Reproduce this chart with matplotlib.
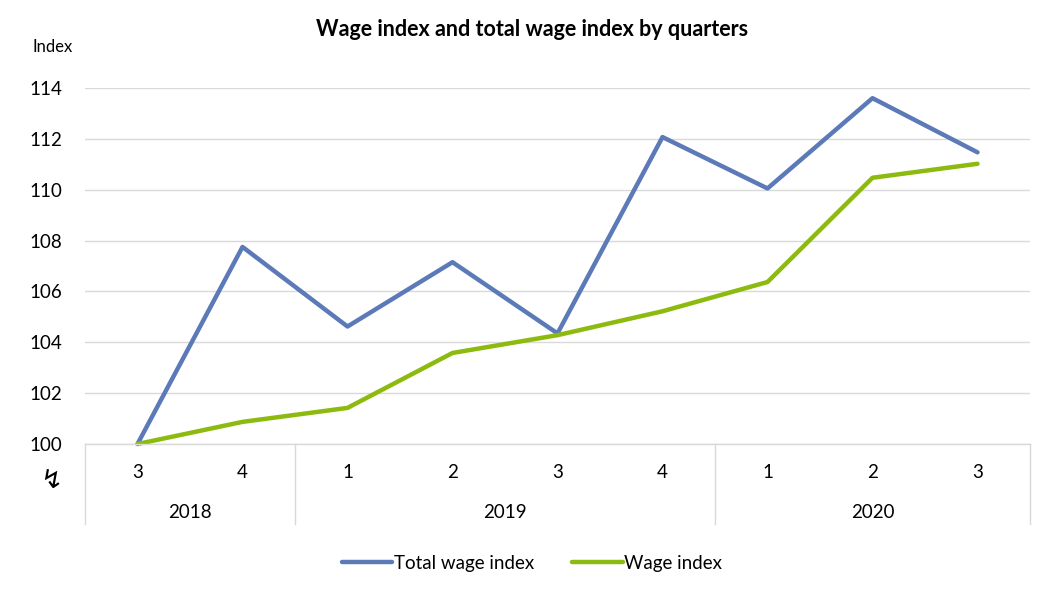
import numpy as np
import matplotlib.pyplot as plt
import matplotlib.transforms as mtransforms

plt.rcParams['font.family'] = ['Lato', 'DejaVu Sans']

quarters = ["3", "4", "1", "2", "3", "4", "1", "2", "3"]
years = ["2018", "2019", "2020"]
year_counts = [2, 4, 3]
total_wage = [100.0, 107.75, 104.62, 107.15, 104.35, 112.07, 110.05, 113.6, 111.47]
wage = [100.0, 100.87, 101.42, 103.58, 104.28, 105.22, 106.37, 110.47, 111.02]

W, H = 1063, 591
fig = plt.figure(figsize=(W / 100, H / 100), dpi=100)
ax = fig.add_axes([85 / W, 1 - 444 / H, 945 / W, 356 / H])

x = np.arange(len(quarters))
ax.plot(x, total_wage, color="#5B7AB7", lw=3.2, label="Total wage index", solid_capstyle="round", clip_on=False)
ax.plot(x, wage, color="#8DBA0E", lw=3.2, label="Wage index", solid_capstyle="round", clip_on=False)

ax.set_xlim(-0.5, 8.5)
ax.set_ylim(100, 114)
ax.set_yticks(np.arange(100, 115, 2))
ax.tick_params(axis="y", length=0, pad=16.5, labelsize=13.5)
ax.set_xticks([])
ax.grid(axis="y", color="#D9D9D9", lw=1)
ax.set_axisbelow(True)
for s in ["top", "right", "left"]:
    ax.spines[s].set_visible(False)
ax.spines["bottom"].set_color("#D9D9D9")
ax.spines["bottom"].set_linewidth(1)

# category axis: quarters, years and separators
trans = mtransforms.blended_transform_factory(ax.transData, fig.transFigure)
for i, q in enumerate(quarters):
    ax.text(i, 1 - 472 / H, q, transform=trans, ha="center", va="center", fontsize=13.5)
start = 0
bounds = [-0.5]
for yr, n in zip(years, year_counts):
    ax.text(start + (n - 1) / 2, 1 - 512 / H, yr, transform=trans, ha="center", va="center", fontsize=13.5)
    start += n
    bounds.append(start - 0.5)
for b in bounds:
    ax.plot([b, b], [1 - 444 / H, 1 - 524 / H], transform=trans, color="#D9D9D9", lw=1, clip_on=False)

fig.text(51 / W, 1 - 481 / H, "\u21af", ha="center", va="center", fontsize=19, family="DejaVu Sans")
fig.text(33 / W, 1 - 47 / H, "Index", ha="left", va="center", fontsize=12)
fig.text(532 / W, 1 - 30 / H, "Wage index and total wage index by quarters", ha="center", va="center",
         fontsize=15.5, fontweight="bold")

fig.legend(loc="center", bbox_to_anchor=(532 / W, 1 - 563 / H), ncol=2, frameon=False, fontsize=13.5,
           handlelength=2.7, handletextpad=0.1, columnspacing=2.0)

fig.savefig("out.png", dpi=100)
